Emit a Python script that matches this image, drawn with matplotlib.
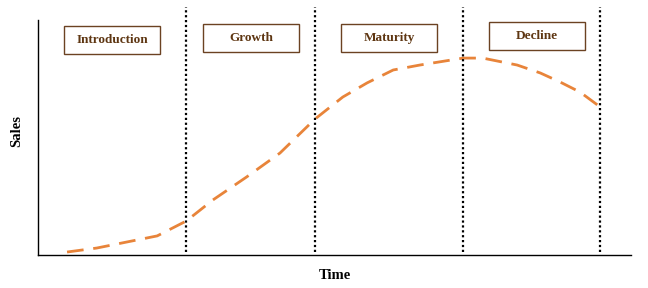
import matplotlib
matplotlib.use('Agg')
from matplotlib import pyplot as plt
from matplotlib.patches import Rectangle

# product life cycle curve
time = [4.9, 9.9, 20.1, 25.0, 29.5, 35.2, 40.8, 46.7, 51.4, 55.5, 59.9,
        64.4, 71.7, 75.0, 80.8, 84.7, 88.0, 91.4, 94.8]
sales = [1.2, 2.8, 7.7, 13.7, 22.2, 31.5, 41.1, 54.8, 63.7, 69.4, 74.6,
         76.6, 79.4, 79.4, 76.6, 73.4, 69.8, 65.7, 59.7]

# stage boundaries and stage labels
dividers = [25.0, 46.7, 71.7, 94.8]
stages = ['Introduction', 'Growth', 'Maturity', 'Decline']
label_x = [12.5, 35.9, 59.2, 84.1]
label_y = [86.7, 87.5, 87.5, 88.3]


def main():
    fig = plt.figure(figsize=(6.48, 2.88), dpi=100)
    ax = fig.add_axes([38 / 648, 33 / 288, 593 / 648, 248 / 288])
    ax.set_xlim(0, 100)
    ax.set_ylim(0, 100)

    ax.plot(time, sales, color='#e8843a', lw=2.0, dashes=(6, 3.5))
    ax.vlines(dividers, 1.2, 100, colors='black', linestyles=(0, (1, 1.2)), lw=1.6)

    tcol = '#5e3612'
    for name, cx, cy in zip(stages, label_x, label_y):
        ax.add_patch(Rectangle((cx - 8.1, cy - 5.65), 16.2, 11.3, fill=False,
                               edgecolor='#6b4222', lw=1.0))
        ax.text(cx, cy, name, ha='center', va='center', color=tcol,
                fontsize=9.5, fontweight='bold', family='Liberation Serif')

    for s in ['top', 'right']:
        ax.spines[s].set_visible(False)
    ax.spines['left'].set_bounds(0, 94.8)
    ax.spines['left'].set_linewidth(1.0)
    ax.spines['bottom'].set_linewidth(1.0)
    ax.set_xticks([])
    ax.set_yticks([])

    ax.set_xlabel('Time', fontsize=10.5, fontweight='bold', family='Liberation Serif', labelpad=10)
    ax.set_ylabel('Sales', fontsize=10.5, fontweight='bold', family='Liberation Serif', labelpad=11)

    fig.savefig('out.png', dpi=100)
    plt.close(fig)


if __name__ == '__main__':
    main()
